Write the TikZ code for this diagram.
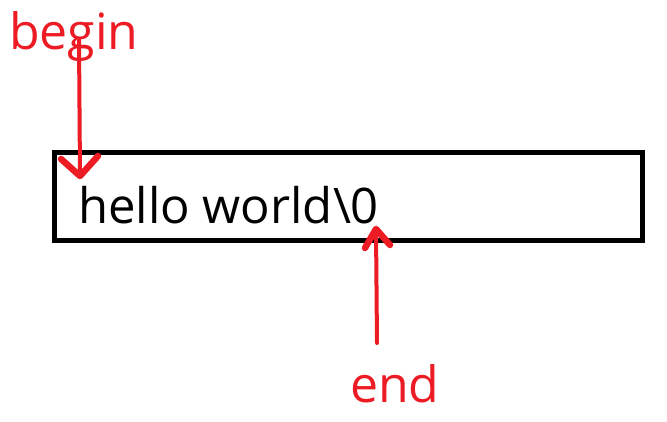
\documentclass[tikz,border=0pt]{standalone}
\usepackage{fontspec}
\setmainfont{Open Sans}
\usetikzlibrary{calc}
\definecolor{pen}{RGB}{237,28,36}
\tikzset{
  redlabel/.style={text=pen, inner sep=0pt, anchor=base west, font=\fontsize{50}{60}\selectfont},
  boxtext/.style={text=black, inner sep=0pt, anchor=base west, font=\fontsize{49}{60}\selectfont},
  penline/.style={draw=pen, line width=4pt, line cap=round},
  penhead/.style={draw=pen, line width=6.5pt, line cap=round, line join=round},
  frame/.style={draw=black, line width=5pt, outer sep=0pt}
}
\begin{document}
\begin{tikzpicture}[x=1pt,y=-1pt]
\useasboundingbox (0,0) rectangle (667,422);
\fill[white] (0,0) rectangle (667,422);
\node[frame, minimum width=588pt, minimum height=88pt, anchor=north west, inner sep=0pt] (box) at (54.5,152.5) {};
\node[boxtext] (str) at (78,224) {hello world\textbackslash 0};
\node[redlabel] (begin) at (9,50) {begin};
\node[redlabel] (end) at (350,402) {end};
\coordinate (bs) at (79,40);
\coordinate (bt) at (80,176);
\coordinate (es) at (377,343);
\coordinate (et) at (376,229);
\draw[penline] (bs) -- (bt);
\draw[penhead] ($(bt)+(-19,-17)$) -- (bt) -- ($(bt)+(18,-20)$);
\draw[penline] (es) -- (et);
\draw[penhead] ($(et)+(-11,19)$) -- (et) -- ($(et)+(14,16)$);
\end{tikzpicture}
\end{document}
